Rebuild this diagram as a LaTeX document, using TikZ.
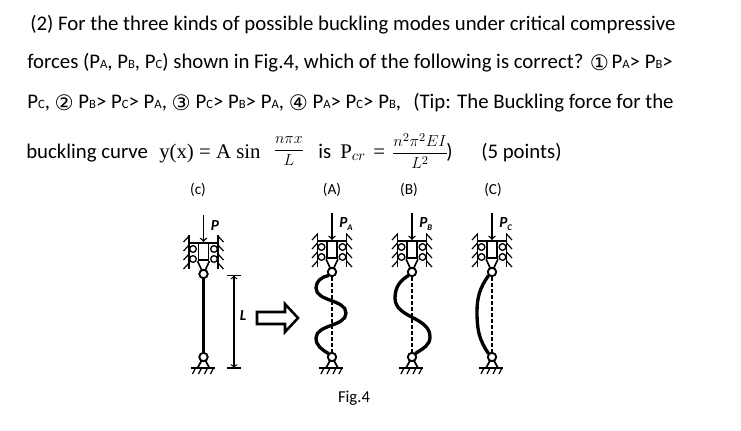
\documentclass[tikz,border=0pt]{standalone}
\usepackage{amsmath}
\usepackage{fontspec}
\setmainfont{Carlito}
\newfontfamily\circfont{DejaVu Sans}
\newfontfamily\formfont{Liberation Serif}
\usetikzlibrary{calc}
\newcommand{\smc}[1]{{\fontsize{9.5}{10}\selectfont #1}}
\newcommand{\circnum}[1]{\raisebox{-0.8pt}{\circfont\fontsize{16}{14}\selectfont #1}}
\tikzset{
  textline/.style={anchor=base west,inner sep=0pt,font=\fontsize{15.6}{17}\selectfont},
  formula/.style={anchor=base west,inner sep=0pt,font=\formfont\fontsize{15.6}{17}\selectfont},
  fracpart/.style={inner sep=0pt,font=\fontsize{13}{15}\selectfont},
  casetitle/.style={anchor=base,inner sep=0pt,font=\fontsize{11.5}{13}\selectfont},
  forcename/.style={inner sep=0pt,font=\bfseries\itshape\fontsize{11.5}{13}\selectfont},
  hinge/.style={shape=circle,draw=black,fill=white,line width=1.3pt,inner sep=0pt,minimum size=6.2pt},
  roller/.style={shape=circle,draw=black,fill=white,line width=1pt,inner sep=0pt,minimum size=5pt},
  slider/.style={shape=rectangle,draw=black,fill=white,line width=1.4pt,inner sep=0pt,minimum width=7.5pt,minimum height=13pt},
  beam/.style={line width=2.5pt,line cap=round},
  thinline/.style={line width=0.9pt}
}
\begin{document}
\begin{tikzpicture}[x=0.75pt,y=-0.75pt]
\useasboundingbox (0,0) rectangle (741,431);
\node[textline] (line1) at (30,31) {(2) For the three kinds of possible buckling modes under critical compressive};
\node[textline] (line2) at (27,69) {forces (P\smc{A}, P\smc{B}, P\smc{C}) shown in Fig.4, which of the following is correct? \circnum{①}\kern2pt P\smc{A}> P\smc{B}>};
\node[textline] (line3) at (27,109) {P\smc{C}, \circnum{②} P\smc{B}> P\smc{C}> P\smc{A}, \circnum{③} P\smc{C}> P\smc{B}> P\smc{A}, \circnum{④} P\smc{A}> P\smc{C}> P\smc{B},};
\node[textline] (tip) at (413,109) {(Tip: The Buckling force for the};
\node[textline] (curve) at (26,158) {buckling curve};
\node[formula] (yx) at (159,158) {y(x) = A sin};
\node[fracpart] (fracone) at (289,151) {$\dfrac{n\pi x}{L}$};
\node[textline] (is) at (318,158) {is};
\node[formula] (pcr) at (340,158) {P$_{cr}$};
\node[formula] (equal) at (373,158) {=};
\node[fracpart] (fractwo) at (420,151) {$\dfrac{n^2\pi^2EI}{L^2}$};
\node[textline] (close) at (446,158) {)};
\node[textline] (points) at (481,158) {(5 points)};
\node[casetitle] (titlec) at (198,194) {(c)};
\node[casetitle] (titleA) at (332,194) {(A)};
\node[casetitle] (titleB) at (409,194) {(B)};
\node[casetitle] (titleC) at (493,194) {(C)};
\node[anchor=base,inner sep=0pt,font=\fontsize{12.5}{15}\selectfont] (fig) at (354,402) {Fig.4};
% columns
\foreach \col/\cx/\dy in {c/203.5/2,A/332/0,B/412/0,C/492/0}{
  \coordinate (arrow\col) at (\cx,213+\dy);
  \node[slider] (box\col) at (\cx,249.5+\dy) {};
  \node[hinge] (top\col) at (\cx,272+\dy) {};
  \node[hinge] (bot\col) at (\cx,357) {};
  \draw[line width=1.2pt] (box\col.south west) -- (top\col.center) -- (box\col.south east);
  \draw[line width=1.2pt] (\cx-14.5,241+\dy) -- (\cx+14.5,241+\dy);
  \draw[line width=1.2pt] (\cx-14.5,233+\dy) -- (\cx-14.5,267+\dy);
  \draw[line width=1.2pt] (\cx+14.5,233+\dy) -- (\cx+14.5,267+\dy);
  \foreach \hy in {234,243,252,261}{
    \draw[thinline] (\cx-14.5,\hy+\dy) -- (\cx-20,\hy+\dy+6);
    \draw[thinline] (\cx+14.5,\hy+\dy) -- (\cx+20,\hy+\dy+6);
  }
  \node[roller] (rollL\col) at (\cx-10.5,247+\dy) {};
  \node[roller] (rollLL\col) at (\cx-10.5,257+\dy) {};
  \node[roller] (rollR\col) at (\cx+10.5,247+\dy) {};
  \node[roller] (rollRR\col) at (\cx+10.5,257+\dy) {};
  \node[slider] at (box\col) {};
  \draw[->,line width=1.1pt] (arrow\col) -- (box\col.north);
  \draw[line width=1.3pt] (\cx-13,368) -- (\cx+11,368);
  \draw[line width=1.3pt] (bot\col.center) -- (\cx-6,368) (bot\col.center) -- (\cx+6,368);
  \foreach \gx in {-8,-2,4,10}{
    \draw[thinline] (\cx+\gx,368) -- (\cx+\gx-3,374);
  }
  \node[hinge] at (top\col) {};
  \node[hinge] at (bot\col) {};
}
\node[forcename] (forceP) at (215,226) {P};
\node[forcename,anchor=west] (forceA) at (339,224) {P\raisebox{-2pt}{\fontsize{6.5}{7}\selectfont A}};
\node[forcename,anchor=west] (forceB) at (419,224) {P\raisebox{-2pt}{\fontsize{6.5}{7}\selectfont B}};
\node[forcename,anchor=west] (forceC) at (499,224) {P\raisebox{-2pt}{\fontsize{6.5}{7}\selectfont C}};
% straight column and dashes
\draw[beam,line cap=butt] (topc) -- (botc);
\draw[dashed,thinline,dash pattern=on 3pt off 1.5pt] (topA) -- (botA);
\draw[dashed,thinline,dash pattern=on 3pt off 1.5pt] (topB) -- (botB);
\draw[dashed,thinline,dash pattern=on 3pt off 1.5pt] (topC) -- (botC);
% buckled shapes
\coordinate (peakA1) at (316,288);
\coordinate (peakA2) at (346,313);
\coordinate (peakA3) at (316,338);
\draw[beam] (topA.south west) to[out=190,in=90] (peakA1) to[out=-90,in=90,looseness=0.9] (peakA2) to[out=-90,in=90,looseness=0.9] (peakA3) to[out=-90,in=150] (botA.north west);
\coordinate (peakB1) at (395,298);
\coordinate (peakB2) at (430,337);
\draw[beam] (topB.south west) to[out=210,in=90] (peakB1) to[out=-90,in=90] (peakB2) to[out=-90,in=35] (botB.north east);
\coordinate (peakC1) at (477,312);
\draw[beam] (topC.south west) to[out=235,in=90] (peakC1) to[out=-90,in=125] (botC.north west);
% length mark
\node[forcename] (lenL) at (243,316) {L};
\coordinate (lenT) at (234,275.5);
\coordinate (lenB) at (234,368);
\draw[<->,line width=0.9pt] (lenT) -- (lenB);
\draw[thinline] ($(lenT)+(-7,0)$) -- ($(lenT)+(7,0)$);
\draw[thinline] ($(lenB)+(-7,0)$) -- ($(lenB)+(7,0)$);
% hollow arrow
\draw[line width=1.9pt] (257,312) -- (285,312) -- (285,304) -- (298,318) -- (285,332) -- (285,324) -- (257,324) -- cycle;
\end{tikzpicture}
\end{document}
